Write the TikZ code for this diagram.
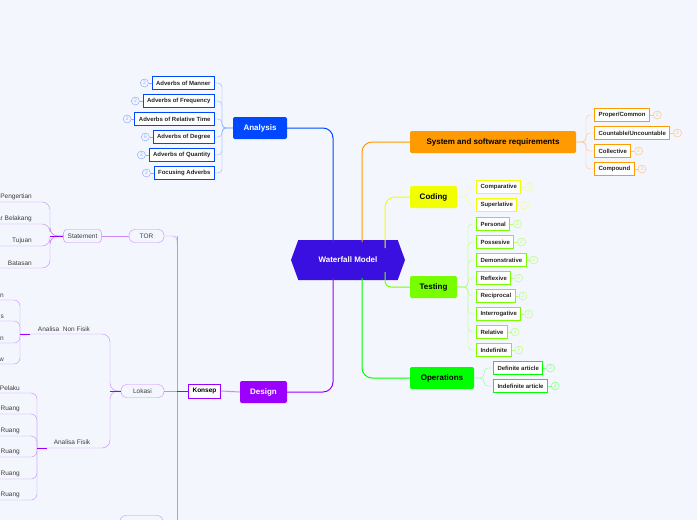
\documentclass[tikz,border=0pt]{standalone}
\usepackage{fontspec}
\setmainfont{Liberation Sans}
\usetikzlibrary{shapes.symbols,positioning}
\definecolor{bg}{HTML}{F3F6FD}
\definecolor{cblue}{HTML}{0048FF}
\definecolor{lblue}{HTML}{8FB0FF}
\definecolor{cpur}{HTML}{9B00FF}
\definecolor{lpur}{HTML}{CC88FF}
\definecolor{corg}{HTML}{FF9A00}
\definecolor{lorg}{HTML}{FFC580}
\definecolor{cyel}{HTML}{F2FF00}
\definecolor{lyel}{HTML}{F4FF80}
\definecolor{cgr}{HTML}{77FF00}
\definecolor{lgr}{HTML}{B8FF80}
\definecolor{cgg}{HTML}{00FF00}
\definecolor{lgg}{HTML}{80FF80}
\definecolor{cvio}{HTML}{3A10E0}
\tikzset{
 main/.style={rounded corners=2pt,font=\fontsize{8}{9}\selectfont\bfseries,minimum height=22pt,inner xsep=7pt},
 kid/.style={draw,line width=1pt,fill=white,font=\fontsize{6}{7}\selectfont\bfseries,minimum height=13pt,inner xsep=4pt,text=black!85},
 bub/.style={circle,draw,line width=0.5pt,inner sep=0pt,minimum size=8pt,font=\fontsize{5}{5}\selectfont},
 pill/.style={draw=lpur,rounded corners=6pt,fill=bg,font=\fontsize{6.5}{7}\selectfont,minimum height=13pt,text=black!75,inner xsep=6pt},
 ltxt/.style={font=\fontsize{6.5}{7}\selectfont,text=black!75,inner sep=1pt,anchor=south east},
}
\begin{document}
\begin{tikzpicture}[x=1pt,y=-1pt]
\fill[bg] (0,0) rectangle (697,520);
\useasboundingbox (0,0) rectangle (697,520);
% center
\node[signal,signal to=east and west,signal pointer angle=140,fill=cvio,text=white,font=\fontsize{8}{9}\selectfont\bfseries,minimum width=114pt,minimum height=40pt,inner xsep=2pt] (wm) at (348,260) {Waterfall Model};
% main nodes
\node[main,fill=cblue,text=white,minimum width=54pt] (an) at (260,128) {Analysis};
\node[main,fill=cpur,text=white,minimum width=47pt] (de) at (263.5,392) {Design};
\node[main,fill=corg,text=black,minimum width=166pt] (sy) at (493,142) {System and software requirements};
\node[main,fill=cyel,text=black,minimum width=47pt] (co) at (433.5,197) {Coding};
\node[main,fill=cgr,text=black,minimum width=47pt] (te) at (433.5,287) {Testing};
\node[main,fill=cgg,text=black,minimum width=64pt] (op) at (442,378) {Operations};
% main connectors
\draw[cblue,line width=1pt,rounded corners=10pt] (an.east) -- (333,128) -- (333,242);
\draw[cpur,line width=1pt,rounded corners=10pt] (de.east) -- (333,392) -- (333,278);
\draw[corg,line width=1pt,rounded corners=10pt] (362,242) -- (362,142) -- (sy.west);
\draw[cyel,line width=1pt,rounded corners=10pt] (385,248) -- (385,197) -- (co.west);
\draw[cgr,line width=1pt,rounded corners=6pt] (385,272) -- (385,287) -- (te.west);
\draw[cgg,line width=1pt,rounded corners=10pt] (362,278) -- (362,378) -- (op.west);
% Analysis children
\foreach \t/\y/\n [count=\i] in {Adverbs of Manner/83/2,Adverbs of Frequency/101/2,Adverbs of Relative Time/119/2,Adverbs of Degree/137/6,Adverbs of Quantity/155/2,Focusing Adverbs/173/2}{
 \node[kid,draw=cblue,anchor=east] (a\i) at (215,\y) {\t};
 \node[bub,draw=lblue,text=lblue,left=3pt of a\i] (ab\i) {\n};
 \draw[lblue] (ab\i) -- (a\i);
 \draw[lblue,rounded corners=4pt] (an.west) -- (222,128) |- (a\i.east);
}
% System children
\foreach \t/\y [count=\i] in {{Proper/Common}/115,{Countable/Uncountable}/133,Collective/151,Compound/169}{
 \node[kid,draw=corg,anchor=west] (s\i) at (594,\y) {\t};
 \node[bub,draw=lorg,text=lorg,right=3pt of s\i] (sb\i) {2};
 \draw[lorg] (sb\i) -- (s\i);
 \draw[lorg,rounded corners=4pt] (sy.east) -- (586,142) |- (s\i.west);
}
% Coding children
\foreach \t/\y [count=\i] in {Comparative/187,Superlative/205}{
 \node[kid,draw=cyel,anchor=west] (c\i) at (476,\y) {\t};
 \node[bub,draw=lyel,text=lyel,right=3pt of c\i] (cb\i) {2};
 \draw[lyel] (cb\i) -- (c\i);
 \draw[lyel,rounded corners=4pt] (co.east) -- (468,197) |- (c\i.west);
}
% Testing children
\foreach \t/\y [count=\i] in {Personal/224,Possesive/242,Demonstrative/260,Reflexive/278,Reciprocal/296,Interrogative/314,Relative/332,Indefinite/350}{
 \node[kid,draw=cgr,anchor=west] (t\i) at (476,\y) {\t};
 \node[bub,draw=lgr,text=lgr,right=3pt of t\i] (tb\i) {2};
 \draw[lgr] (tb\i) -- (t\i);
 \draw[lgr,rounded corners=4pt] (te.east) -- (468,287) |- (t\i.west);
}
% Operations children
\foreach \t/\y [count=\i] in {Definite article/368,Indefinite article/386}{
 \node[kid,draw=cgg,anchor=west] (o\i) at (493,\y) {\t};
 \node[bub,draw=lgg,text=lgg,right=3pt of o\i] (ob\i) {2};
 \draw[lgg] (ob\i) -- (o\i);
 \draw[lgg,rounded corners=4pt] (op.east) -- (484,378) |- (o\i.west);
}
% Design subtree
\node[draw=cpur,line width=1pt,fill=white,font=\fontsize{6.5}{7}\selectfont\bfseries,minimum height=14pt,inner xsep=4pt] (ko) at (204.5,391) {Konsep};
\draw[lpur,line width=1pt] (de.west) -- (ko.east);
\draw[lpur,line width=1pt] (177,236) -- (177,520);
\draw[cpur,line width=1pt] (177,391) -- (ko.west);
\node[pill,minimum width=35pt] (tor) at (146.5,236) {TOR};
\node[pill,minimum width=43pt] (lok) at (142.5,391) {Lokasi};
\node[pill,minimum width=43pt] (p3) at (141.5,522) {};
\draw[lpur,rounded corners=4pt] (tor.east) -- (177,236) -- (177,244);
\draw[lpur] (lok.east) -- (177,391);
\node[draw=lpur,rounded corners=3pt,fill=bg,font=\fontsize{6.5}{7}\selectfont,minimum height=13pt,inner xsep=4pt,text=black!75] (st) at (82.5,236) {Statement};
\draw[lpur] (st.east) -- (tor.west);
% statement leaves
\foreach \t/\y [count=\i] in {Pengertian/202,Latar Belakang/224,Tujuan/246,Batasan/268}{
 \node[ltxt] (sl\i) at (33,\y-1) {\t};
 \draw[lpur,rounded corners=8pt] (st.west) -- (50,236) |- (0,\y);
}
\draw[cpur,line width=1pt] (50,236) -- (st.west);
% Analisa
\node[ltxt,anchor=south] (anf) at (64,333) {Analisa\ \ Non Fisik};
\node[ltxt,anchor=south] (af) at (72,446) {Analisa Fisik};
\draw[lpur,rounded corners=8pt] (lok.west) -- (110,391) |- (20,334);
\draw[lpur,rounded corners=8pt] (lok.west) -- (110,391) |- (37,448);
\draw[cpur,line width=1pt] (110,391) -- (lok.west);
\foreach \t/\y [count=\i] in {n/300,s/321,n/343,w/364}{
 \node[ltxt] (nf\i) at (5,\y-1) {\t};
 \draw[lpur,rounded corners=6pt] (20,334) |- (0,\y);
}
\draw[cpur,line width=1pt] (20,334) -- (30,334);
\foreach \t/\y [count=\i] in {Pelaku/393,Ruang/414,Ruang/436,Ruang/457,Ruang/479,Ruang/500}{
 \node[ltxt] (fs\i) at (21,\y-1) {\t};
 \draw[lpur,rounded corners=6pt] (37,448) |- (0,\y);
}
\draw[cpur,line width=1pt] (37,448) -- (47,448);
\end{tikzpicture}
\end{document}
